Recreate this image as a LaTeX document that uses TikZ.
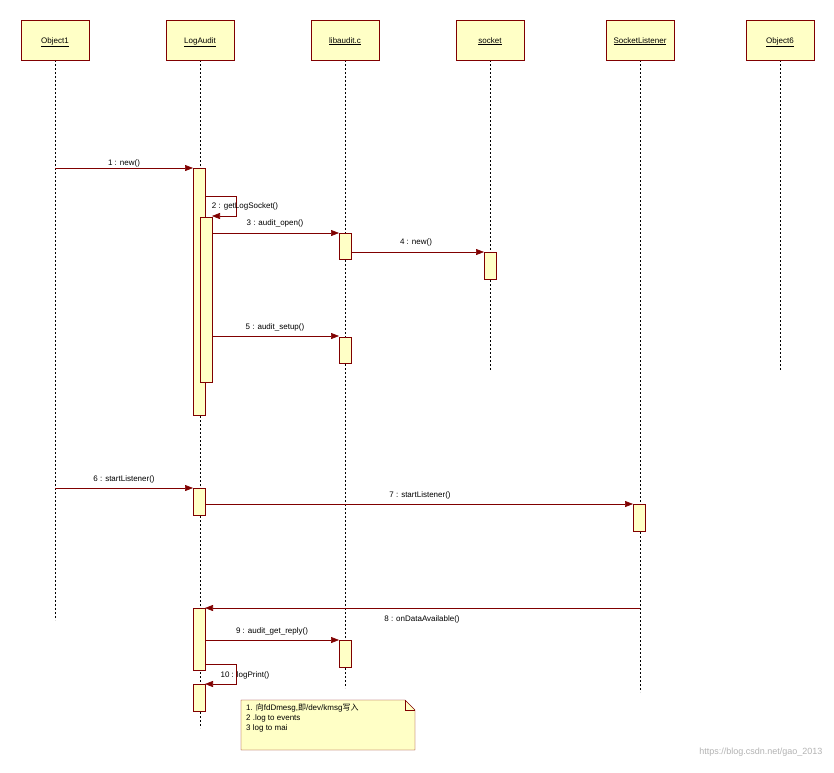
\documentclass[tikz,border=0pt]{standalone}
\usepackage{fontspec}
\setmainfont{Liberation Sans}
\newfontfamily\cjk{Noto Sans CJK SC}
\usetikzlibrary{arrows.meta}
\definecolor{bd}{HTML}{800000}
\definecolor{fl}{HTML}{FFFFC6}
\begin{document}
\begin{tikzpicture}[x=1pt,y=-1pt,
 obj/.style={draw=bd,fill=fl,minimum width=68pt,minimum height=40pt,anchor=north,text depth=0pt,inner sep=0pt,font=\fontsize{8}{9}\selectfont},
 life/.style={dashed,line width=0.6pt,dash pattern=on 2pt off 2pt},
 act/.style={draw=bd,fill=fl},
 msg/.style={draw=bd,line width=0.6pt,-{Triangle[length=8pt,width=6pt,fill=bd]}},
 lab/.style={font=\fontsize{8}{9}\selectfont,inner sep=1pt}]
\useasboundingbox (0,0) rectangle (834,772);
\foreach \n/\x/\t/\e in {o1/55/Object1/620,la/200/LogAudit/728,lb/345/libaudit.c/688,so/490/socket/370,sl/640/SocketListener/692,o6/780/Object6/370}{
 \draw[life] (\x,60) -- (\x,\e);
 \node[obj] (\n) at (\x,20) {\raisebox{0pt}[0pt][0pt]{}\underline{\t}};
}
% activations
\draw[act] (193,168) rectangle (205,415);
\draw[act] (200,217) rectangle (212,382);
\draw[act] (339,233) rectangle (351,259);
\draw[act] (484,252) rectangle (496,279);
\draw[act] (339,337) rectangle (351,363);
\draw[act] (193,488) rectangle (205,515);
\draw[act] (633,504) rectangle (645,531);
\draw[act] (193,608) rectangle (205,670);
\draw[act] (193,684) rectangle (205,711);
\draw[act] (339,640) rectangle (351,667);
% messages
\coordinate (a1) at (55,168); \coordinate (b1) at (193,168);
\draw[msg] (a1) -- (b1) node[lab,pos=0.5,above] {1 : new()};
\coordinate (a2) at (205,196); \coordinate (b2) at (212,216);
\draw[msg] (a2) -- (236,196) -- (236,216) -- (b2);
\node[lab] (l2) at (245,206) {2 : getLogSocket()};
\coordinate (a3) at (212,233); \coordinate (b3) at (339,233);
\draw[msg] (a3) -- (b3); \node[lab] (l3) at (275,223) {3 : audit\_open()};
\coordinate (a4) at (351,252); \coordinate (b4) at (484,252);
\draw[msg] (a4) -- (b4); \node[lab] (l4) at (416,242) {4 : new()};
\coordinate (a5) at (212,336); \coordinate (b5) at (339,336);
\draw[msg] (a5) -- (b5); \node[lab] (l5) at (275,327) {5 : audit\_setup()};
\coordinate (a6) at (55,488); \coordinate (b6) at (193,488);
\draw[msg] (a6) -- (b6); \node[lab] (l6) at (124,479) {6 : startListener()};
\coordinate (a7) at (205,504); \coordinate (b7) at (633,504);
\draw[msg] (a7) -- (b7); \node[lab] (l7) at (420,495) {7 : startListener()};
\coordinate (a8) at (640,608); \coordinate (b8) at (205,608);
\draw[msg] (a8) -- (b8); \node[lab] (l8) at (422,619) {8 : onDataAvailable()};
\coordinate (a9) at (205,640); \coordinate (b9) at (339,640);
\draw[msg] (a9) -- (b9); \node[lab] (l9) at (272,631) {9 : audit\_get\_reply()};
\coordinate (a10) at (205,664); \coordinate (b10) at (205,684);
\draw[msg] (a10) -- (236,664) -- (236,684) -- (b10);
\node[lab] (l10) at (245,675) {10 : logPrint()};
% note
\draw[bd,fill=fl] (241,700) -- (405,700) -- (415,710) -- (415,750) -- (241,750) -- cycle;
\draw[bd] (405,700) -- (405,710) -- (415,710);
\node[lab,anchor=north west,align=left] (note) at (245,703) {1. {\cjk 向}fdDmesg,{\cjk 即}/dev/kmsg{\cjk 写入}\\[1pt]2 .log to events\\[1pt]3 log to mai};
\node[font=\fontsize{9}{10}\selectfont,text=gray!60,anchor=east] (wm) at (826,752) {https://blog.csdn.net/gao\_2013};
\end{tikzpicture}
\end{document}
